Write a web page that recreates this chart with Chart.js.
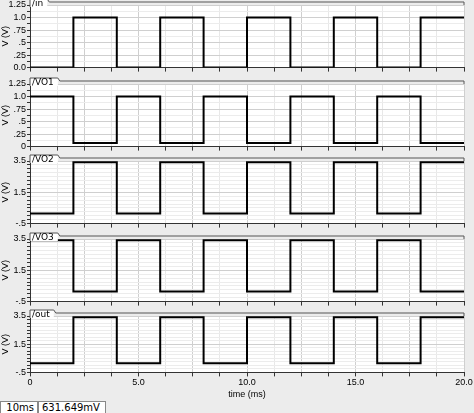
<!DOCTYPE html>
<html>
<head>
<meta charset="UTF-8">
<script src="https://cdn.jsdelivr.net/npm/chart.js@4"></script>
<style>
  body { margin:0; background:#ececec; font-family:"DejaVu Sans", sans-serif; }
  .panel { position:absolute; left:0; width:474px; }
  #status { position:absolute; left:0; top:401px; font-size:10px; }
  #status span { display:inline-block; background:#fff; border:1px solid #888; padding:0 3px; height:11px; line-height:11px; }
</style>
</head>
<body>
<div id="status"><span style="width:30px;text-align:right">10ms</span><span style="width:60px">631.649mV</span></div>
<script>
// edge times in ms (each signal toggles at these)
const edges = [0, 2, 4, 6, 8, 10, 12, 14, 16, 18, 20];
const signalNames = ["/in", "/VO1", "/VO2", "/VO3", "/out"];
// low / high voltages
const inLevels  = [0, 1.0];
const vo1Levels = [0.07, 1.0];
const vo2Levels = [0.15, 3.42];
const vo3Levels = [0.15, 3.42];
const outLevels = [0.15, 3.42];
const startHigh = [false, true, false, true, false];
const yRanges = [[0, 1.25], [0, 1.25], [-0.5, 3.5], [-0.5, 3.5], [-0.5, 3.5]];
const yLabels1 = {0: "0.0", 0.25: ".25", 0.5: ".5", 0.75: ".75", 1: "1.0", 1.25: "1.25"};
const yLabels2 = {0: "0", 0.25: ".25", 0.5: ".5", 0.75: ".75", 1: "1.0", 1.25: "1.25"};
const yLabels3 = {"-0.5": "-.5", 1.5: "1.5", 3.5: "3.5"};
const xLabels = {0: "0", 5: "5.0", 10: "10.0", 15: "15.0", 20: "20.0"};

const levels = [inLevels, vo1Levels, vo2Levels, vo3Levels, outLevels];
const plotTops = [5, 84, 161, 239, 316];

// each point carries the level of the segment that starts at it
function wave(lv, high) {
  const pts = [];
  let h = high;
  for (let i = 0; i < edges.length - 1; i++) {
    pts.push({x: edges[i], y: lv[h ? 1 : 0]});
    h = !h;
  }
  pts.push({x: 20, y: lv[h ? 0 : 1]});
  return pts;
}

const tabPlugin = {
  id: "tab",
  afterDraw(chart, args, opts) {
    const c = chart.ctx, a = chart.chartArea;
    c.save();
    c.strokeStyle = "#555"; c.lineWidth = 1;
    c.font = "9px 'DejaVu Sans'";
    const tw = c.measureText(opts.name).width + 6;
    c.fillStyle = "#fff";
    c.fillRect(a.left, a.top - 6, tw, 8);
    c.beginPath();
    c.moveTo(a.left, a.top + 2);
    c.lineTo(a.left, a.top - 6);
    c.lineTo(a.left + tw, a.top - 6);
    c.lineTo(a.left + tw + 2, a.top - 3);
    c.lineTo(a.right, a.top - 3);
    c.lineTo(a.right, a.top);
    c.stroke();
    c.fillStyle = "#000";
    c.textBaseline = "middle";
    c.fillText(opts.name, a.left + 2, a.top - 1);
    c.restore();
  }
};

for (let p = 0; p < 5; p++) {
  const last = p === 4;
  const div = document.createElement("div");
  div.className = "panel";
  div.style.top = (plotTops[p] - 7) + "px";
  const h = last ? 400 - plotTops[p] + 7 : 76;
  div.style.height = h + "px";
  const cv = document.createElement("canvas");
  div.appendChild(cv);
  document.body.appendChild(div);
  const lab = p === 0 ? yLabels1 : p === 1 ? yLabels2 : yLabels3;
  new Chart(cv, {
    type: "line",
    data: { datasets: [{ data: wave(levels[p], startHigh[p]), stepped: "before",
      borderColor: "#000", borderWidth: 2, pointRadius: 0 }] },
    options: {
      responsive: true, maintainAspectRatio: false, animation: false,
      layout: { padding: { top: 7, right: 10, left: 0, bottom: 0 } },
      plugins: { legend: { display: false }, tooltip: { enabled: false }, tab: { name: signalNames[p] } },
      scales: {
        x: { type: "linear", min: 0, max: 20,
          ticks: { stepSize: 1.25, display: last, autoSkip: false, maxRotation: 0,
            color: "#000", font: { size: 9 }, padding: 1,
            callback: v => xLabels[v] !== undefined ? xLabels[v] : "" },
          grid: { color: ctx => (ctx.tick && ctx.tick.value % 2.5 === 0) ? "#cfcfcf" : "#e8e8e8",
            tickLength: 4, tickColor: "#333", drawTicks: true },
          border: { color: "#333" },
          title: { display: last, text: "time (ms)", font: { size: 9 }, color: "#000", padding: 0 } },
        y: { min: yRanges[p][0], max: yRanges[p][1],
          afterFit: s => { s.width = 30; },
          ticks: { stepSize: p < 2 ? 0.125 : 0.25, autoSkip: false, color: "#000", font: { size: 9 }, padding: 1,
            callback: v => lab[v] !== undefined ? lab[v] : "" },
          grid: { color: ctx => (ctx.tick && lab[ctx.tick.value] !== undefined) ? "#cfcfcf" : "#ececec",
            tickLength: 3, tickColor: "#333" },
          border: { color: "#333" },
          title: { display: true, text: "V (V)", font: { size: 9 }, color: "#000", padding: 0 } }
      }
    },
    plugins: [tabPlugin, { id: "bg", beforeDraw(c) { const a = c.chartArea; c.ctx.fillStyle = "#fff"; c.ctx.fillRect(a.left, a.top, a.right - a.left, a.bottom - a.top); } }]
  });
}
</script>
</body>
</html>
